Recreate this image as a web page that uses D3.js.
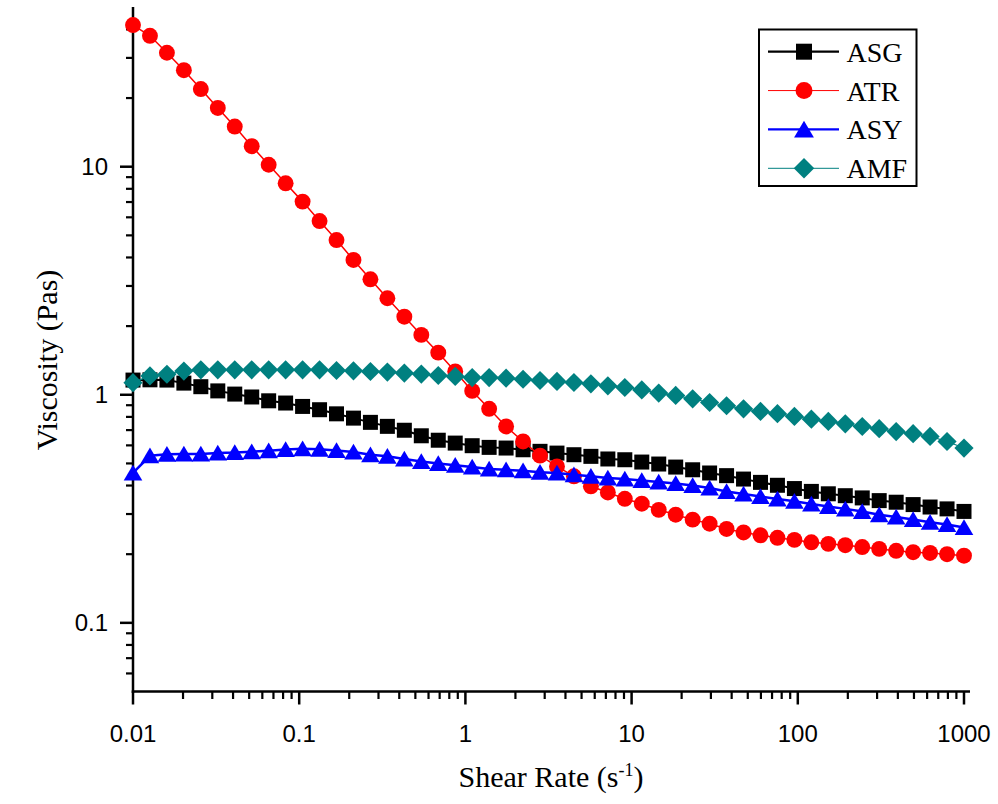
<!DOCTYPE html>
<html><head><meta charset="utf-8">
<script src="https://cdn.jsdelivr.net/npm/d3@7"></script>
<style>html,body{margin:0;padding:0;background:#fff;}svg{display:block;}</style>
</head><body>
<svg id="chart" width="998" height="804"></svg>
<script>
// Shear rate (s^-1): 50 log-spaced points 0.01 .. 1000
const shearRate = [0.01,0.012649,0.016,0.020236,0.025595,0.032375,0.040949,0.051795,0.065512,0.082864,
  0.10481,0.13257,0.16768,0.2121,0.26827,0.33932,0.42919,0.54287,0.68665,0.86851,
  1.0985,1.3895,1.7575,2.223,2.8118,3.5565,4.4984,5.6899,7.1969,9.103,
  11.514,14.563,18.421,23.3,29.471,37.276,47.149,59.636,75.431,95.41,
  120.68,152.64,193.07,244.2,308.88,390.7,494.17,625.06,790.6,1000];
const ASG = [1.16,1.163,1.16,1.125,1.085,1.04,1.007,0.978,0.941,0.92,
  0.889,0.86,0.825,0.79,0.757,0.727,0.699,0.661,0.632,0.614,
  0.598,0.588,0.584,0.574,0.565,0.555,0.546,0.537,0.523,0.519,
  0.507,0.497,0.482,0.469,0.454,0.442,0.427,0.413,0.401,0.388,
  0.377,0.368,0.361,0.353,0.3435,0.338,0.33,0.322,0.316,0.308];
const ATR = [41.8,37.5,31.6,26.5,21.9,18.1,15.0,12.3,10.2,8.46,
  7.03,5.78,4.77,3.9,3.21,2.65,2.2,1.83,1.53,1.265,
  1.04,0.868,0.726,0.624,0.541,0.485,0.439,0.397,0.373,0.35,
  0.333,0.313,0.298,0.2835,0.272,0.258,0.249,0.242,0.236,0.231,
  0.2255,0.222,0.219,0.215,0.211,0.207,0.204,0.2025,0.2,0.197];
const ASY = [0.454,0.54,0.548,0.55,0.55,0.556,0.558,0.563,0.569,0.576,
  0.58,0.577,0.57,0.561,0.546,0.537,0.523,0.51,0.5,0.491,
  0.482,0.473,0.469,0.464,0.457,0.454,0.446,0.439,0.432,0.427,
  0.421,0.415,0.408,0.4,0.39,0.377,0.367,0.358,0.349,0.341,
  0.332,0.324,0.316,0.308,0.298,0.291,0.284,0.276,0.27,0.262];
const AMF = [1.13,1.21,1.23,1.27,1.287,1.287,1.287,1.287,1.287,1.287,
  1.287,1.287,1.278,1.274,1.265,1.257,1.245,1.232,1.215,1.203,
  1.19,1.19,1.183,1.17,1.155,1.144,1.132,1.117,1.095,1.076,
  1.05,1.017,0.993,0.96,0.925,0.895,0.868,0.845,0.826,0.804,
  0.782,0.764,0.746,0.726,0.71,0.69,0.675,0.657,0.624,0.584];
const seriesNames = ["ASG","ATR","ASY","AMF"];
const xMajorTicks = [0.01,0.1,1,10,100,1000];
const xTickLabels = ["0.01","0.1","1","10","100","1000"];
const yMajorTicks = [0.1,1,10];
const yTickLabels = ["0.1","1","10"];
const xTitle = "Shear Rate (s";
const yTitle = "Viscosity (Pas)";

const svg = d3.select("#chart");
const x = d3.scaleLog().domain([0.01,1000]).range([133,964]);
const y = d3.scaleLog().domain([0.05,50]).range([691.5,7.3]);

const styles = {
  ASG:{color:"#000000", lw:2, shape:"square"},
  ATR:{color:"#ff0000", lw:1.5, shape:"circle"},
  ASY:{color:"#0000ff", lw:2.5, shape:"triangle"},
  AMF:{color:"#008080", lw:1.2, shape:"diamond"}
};
const dataMap = {ASG, ATR, ASY, AMF};

function shapePath(shape, s){
  switch(shape){
    case "square": return `M${-s*0.5},${-s*0.5}h${s}v${s}h${-s}Z`;
    case "circle": {const r=s*0.53; return `M${-r},0a${r},${r} 0 1,0 ${2*r},0a${r},${r} 0 1,0 ${-2*r},0Z`;}
    case "triangle": return `M0,${-s*0.55}L${s*0.62},${s*0.5}L${-s*0.62},${s*0.5}Z`;
    case "diamond": {const d=s*0.64; return `M0,${-d}L${d},0L0,${d}L${-d},0Z`;}
  }
}

// axes
const ax = svg.append("g").attr("stroke","#000").attr("stroke-width",2.5).attr("fill","none");
ax.append("line").attr("x1",131.75).attr("x2",970).attr("y1",691.5).attr("y2",691.5);
ax.append("line").attr("x1",133).attr("x2",133).attr("y1",7).attr("y2",692.75);
const xMinor = [];
[0.01,0.1,1,10,100].forEach(d=>{for(let k=2;k<=9;k++) xMinor.push(d*k);});
ax.selectAll(".xmaj").data(xMajorTicks).enter().append("line")
  .attr("x1",d=>x(d)).attr("x2",d=>x(d)).attr("y1",691.5).attr("y2",704.5);
ax.selectAll(".xmin").data(xMinor).enter().append("line")
  .attr("x1",d=>x(d)).attr("x2",d=>x(d)).attr("y1",691.5).attr("y2",699).attr("stroke-width",2.2);
const yMinor = [];
[0.01,0.1,1,10].forEach(d=>{for(let k=2;k<=9;k++){const v=d*k; if(v>0.05+1e-9 && v<50-1e-9) yMinor.push(v);}});
ax.selectAll(".ymaj").data(yMajorTicks).enter().append("line")
  .attr("x1",120).attr("x2",133).attr("y1",d=>y(d)).attr("y2",d=>y(d));
ax.selectAll(".ymin").data(yMinor).enter().append("line")
  .attr("x1",126).attr("x2",133).attr("y1",d=>y(d)).attr("y2",d=>y(d)).attr("stroke-width",2.2);

// tick labels
const tl = svg.append("g").attr("font-family","'Liberation Sans', Arial, sans-serif").attr("font-size",24).attr("fill","#000");
tl.selectAll(".xl").data(xMajorTicks).enter().append("text")
  .attr("x",d=>x(d)).attr("y",742).attr("text-anchor","middle")
  .text((d,i)=>xTickLabels[i]);
tl.selectAll(".yl").data(yMajorTicks).enter().append("text")
  .attr("x",108).attr("y",d=>y(d)+8.5).attr("text-anchor","end")
  .text((d,i)=>yTickLabels[i]);

// titles
const tf = "'Liberation Serif', 'Times New Roman', serif";
const xt = svg.append("text").attr("x",551).attr("y",787).attr("text-anchor","middle")
  .attr("font-family",tf).attr("font-size",30).attr("fill","#000");
xt.append("tspan").text(xTitle);
xt.append("tspan").attr("font-size",18).attr("dy",-11).text("-1");
xt.append("tspan").attr("dy",11).text(")");
svg.append("text").attr("transform","translate(57,360) rotate(-90)").attr("text-anchor","middle")
  .attr("font-family",tf).attr("font-size",30).attr("fill","#000").text(yTitle);

// series
const plot = svg.append("g");
["ASG","ATR","ASY","AMF"].forEach(name=>{
  const st = styles[name];
  const vals = dataMap[name];
  const pts = shearRate.map((r,i)=>[r, vals[i]]);
  const g = plot.append("g");
  g.append("path").datum(pts)
    .attr("d", d3.line().x(d=>x(d[0])).y(d=>y(d[1])))
    .attr("fill","none").attr("stroke",st.color).attr("stroke-width",st.lw);
  g.selectAll("path.m").data(pts).enter().append("path").attr("class","m")
    .attr("transform",d=>`translate(${x(d[0])},${y(d[1])})`)
    .attr("d", shapePath(st.shape, 15)).attr("fill",st.color);
});

// legend
const lg = svg.append("g");
lg.append("rect").attr("x",759).attr("y",29.5).attr("width",157.5).attr("height",156.5)
  .attr("fill","#fff").attr("stroke","#000").attr("stroke-width",2);
const ly = d3.scalePoint().domain(seriesNames).range([51.7,168.3]);
seriesNames.forEach(name=>{
  const st = styles[name];
  const yy = ly(name);
  lg.append("line").attr("x1",768).attr("x2",839).attr("y1",yy).attr("y2",yy)
    .attr("stroke",st.color).attr("stroke-width",name==="ATR"||name==="AMF"?1:2.2);
  lg.append("path").attr("transform",`translate(804,${yy})`).attr("d",shapePath(st.shape,16)).attr("fill",st.color);
  lg.append("text").attr("x",846.5).attr("y",yy+10).attr("font-family",tf).attr("font-size",28)
    .attr("fill","#000").text(name);
});
</script>
</body></html>
